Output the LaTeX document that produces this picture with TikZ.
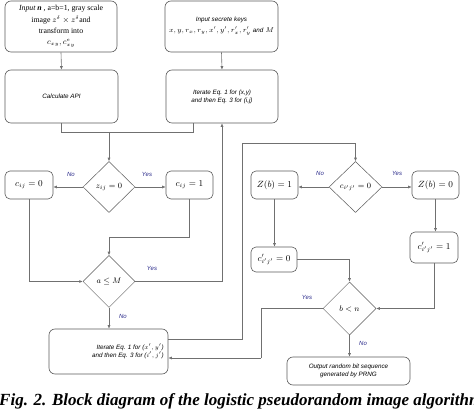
\documentclass[tikz,border=0pt]{standalone}
\usepackage{fontspec}
\setmainfont{Liberation Serif}
\setsansfont{Liberation Sans}
\usetikzlibrary{shapes.geometric,arrows.meta}
\definecolor{lbl}{HTML}{2A2A8A}
\definecolor{ln}{HTML}{707070}
\definecolor{bd}{HTML}{5A5A5A}
\tikzset{
  box/.style={draw=bd,line width=0.6pt,rounded corners=6pt,inner sep=1pt,align=center,
    font=\sffamily\itshape\fontsize{6.3}{8}\selectfont},
  mbox/.style={draw=bd,line width=0.6pt,rounded corners=5pt,inner sep=1pt,align=center,
    font=\fontsize{9}{10}\selectfont},
  dia/.style={diamond,draw=bd,line width=0.5pt,inner sep=0pt,font=\fontsize{8.5}{10}\selectfont},
  con/.style={draw=ln,line width=0.6pt},
  arr/.style={con,-{Latex[length=3.5pt,width=3pt]}},
  lab/.style={text=lbl,font=\sffamily\itshape\fontsize{6}{7}\selectfont,inner sep=0pt},
}
\begin{document}
\begin{tikzpicture}[x=1pt,y=-1pt]
\useasboundingbox (0,0) rectangle (474,411);
% boxes
\node[box,minimum width=112pt,minimum height=51pt,inner sep=0pt,font=\fontsize{7.8}{11.2}\selectfont] (tl) at (61,26.5)
  {{\itshape Input \textbf{n}} , a=b=1, gray scale\\ image $z^{\delta}\times z^{\delta}$and\\ transform into\\ $c_{xy},c^{e}_{xy}$};
\node[box,minimum width=113pt,minimum height=53pt] (api) at (61.5,96.5) {Calculate API};
\node[box,minimum width=113pt,minimum height=51pt,font=\sffamily\itshape\fontsize{6.3}{11}\selectfont] (tr) at (221.5,26.5)
  {Input secrete keys\\ \fontsize{7.5}{9}\selectfont$x,y,r_x,r_y,x',y',r'_x,r'_y$\ {\fontsize{6.3}{8}\selectfont and} $M$};
\node[box,minimum width=112pt,minimum height=53pt] (it1) at (222,96.5)
  {Iterate Eq. 1 for (x,y)\\ and then Eq. 3 for (i,j)};
\node[dia,minimum width=52pt,minimum height=51pt] (d1) at (109,187) {$z_{ij}=0$};
\node[mbox,minimum width=48pt,minimum height=28pt] (c0) at (29,185) {$c_{ij}=0$};
\node[mbox,minimum width=47pt,minimum height=28pt] (c1) at (189.5,185) {$c_{ij}=1$};
\node[dia,minimum width=52pt,minimum height=52pt] (d2) at (109,281.5) {$a\le M$};
\node[box,minimum width=119pt,minimum height=45pt] (it2) at (108.5,351.5) {};
\node[box,draw=none,anchor=east,align=right] (it2t) at (165,351.5)
  {Iterate Eq. 1 for ($x',y'$)\\ and then Eq. 3 for ($i',j'$)};
\node[dia,minimum width=53pt,minimum height=51pt] (d3) at (355.5,187) {$c_{i'j'}=0$};
\node[mbox,minimum width=47pt,minimum height=28pt] (zb1) at (274.5,185) {$Z(b)=1$};
\node[mbox,minimum width=47pt,minimum height=28pt] (zb0) at (435.5,185) {$Z(b)=0$};
\node[mbox,minimum width=46pt,minimum height=25pt] (cp0) at (274,259.5) {$c'_{i'j'}=0$};
\node[mbox,minimum width=48pt,minimum height=31pt] (cp1) at (434,247.5) {$c'_{i'j'}=1$};
\node[dia,minimum width=53pt,minimum height=53pt] (d4) at (349.5,308.5) {$b<n$};
\node[box,minimum width=123pt,minimum height=28pt] (out) at (348.5,371)
  {Output random bit sequence\\ generated by PRNG};
% connectors
\coordinate (j1) at (109,132);
\coordinate (j2) at (109,237);
\coordinate (k1) at (242,339);
\coordinate (k2) at (242,143);
\coordinate (m1) at (261,308.5);
\coordinate (m2) at (261,358);
\draw[arr] (tl.south) -- (api.north);
\draw[arr] (tr.south) -- (it1.north);
\draw[con] (api.south) |- (j1);
\draw[con] (it1.south -| 193,0) |- (j1);
\draw[arr] (j1) -- (d1.north);
\draw[arr] (d1.west) -- (d1.west -| c0.east);
\draw[arr] (d1.east) -- (d1.east -| c1.west);
\draw[arr] (c0.south) |- (d2.west);
\draw[con] (c1.south) |- (j2);
\draw[arr] (j2) -- (d2.north);
\draw[arr] (d2.east) -| (it1.south);
\draw[arr] (d2.south) -- (it2.north -| d2.south);
\draw[con] (it2.east |- k1) -- (k1) -- (k2);
\draw[arr] (k2) -| (d3.north);
\draw[arr] (d3.west) -- (d3.west -| zb1.east);
\draw[arr] (d3.east) -- (d3.east -| zb0.west);
\draw[arr] (zb1.south) -- (cp0.north -| zb1.south);
\draw[arr] (zb0.south) -- (cp1.north -| zb0.south);
\draw[arr] (cp0.east) -| (d4.north);
\draw[arr] (cp1.south) |- (d4.east);
\draw[con] (d4.west) -- (m1) -- (m2);
\draw[arr] (m2) -- (m2 -| it2.east);
\draw[arr] (d4.south) -- (out.north -| d4.south);
% labels
\node[lab] (l1) at (71,174) {No};
\node[lab] (l2) at (147,174) {Yes};
\node[lab] (l3) at (152,268) {Yes};
\node[lab] (l4) at (123,316) {No};
\node[lab] (l5) at (320,173) {No};
\node[lab] (l6) at (397,173) {Yes};
\node[lab] (l7) at (307,297) {Yes};
\node[lab] (l8) at (363,343) {No};
% caption
\node[anchor=base west,inner sep=0pt,font=\bfseries\itshape\fontsize{17}{19}\selectfont] (cap) at (-1,406)
  {Fig. 2. Block diagram of the logistic pseudorandom image algorithm};
\end{tikzpicture}
\end{document}
